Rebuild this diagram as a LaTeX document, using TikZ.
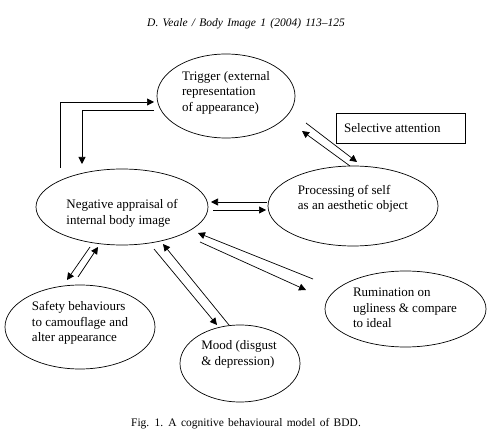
\documentclass[tikz,border=0pt]{standalone}
\usepackage{fontspec}
\setmainfont{Liberation Serif}
\usetikzlibrary{shapes.geometric,arrows.meta}
\newcommand\mywidesp{\spaceskip=4.3pt plus 1pt\relax}
\tikzset{
  oval/.style={draw, ellipse, line width=0.7pt, inner sep=0pt},
  txt/.style={align=left, inner sep=0pt, font=\fontsize{13}{15.5}\selectfont},
  captxt/.style={inner sep=0pt, font={\fontsize{11.5}{13}\selectfont\mywidesp}},
  conn/.style={line width=0.7pt, -{Triangle[length=7pt,width=7pt]}}
}
\begin{document}
\begin{tikzpicture}[x=1pt,y=-1pt]
\useasboundingbox (0,0) rectangle (500,446);
\node[captxt] (hdr) at (246,24) {\itshape D. Veale / Body Image 1 (2004) 113–125};
% ellipses
\node[oval, minimum width=138pt, minimum height=84pt] (trg) at (226,96) {};
\node[txt] (trgt) at (226,92.5) {Trigger (external\\representation\\of appearance)};
\node[draw, line width=0.7pt, minimum width=129pt, minimum height=30pt, inner sep=0pt] (sel) at (400.5,128) {};
\node[txt, anchor=west] (selt) at (344,128) {Selective attention};
\node[oval, minimum width=172pt, minimum height=76pt] (neg) at (122,207) {};
\node[txt] (negt) at (122,213.5) {Negative appraisal of\\internal body image};
\node[oval, minimum width=170pt, minimum height=80pt] (pro) at (353,206) {};
\node[txt] (prot) at (353,199) {Processing of self\\as an aesthetic object};
\node[oval, minimum width=150pt, minimum height=84pt] (saf) at (80,327) {};
\node[txt] (saft) at (80,323) {Safety behaviours\\to camouflage and\\alter appearance};
\node[oval, minimum width=120pt, minimum height=77pt] (moo) at (240,363.5) {};
\node[txt] (moot) at (239,354.5) {Mood (disgust\\\& depression)};
\node[oval, minimum width=161pt, minimum height=76pt] (rum) at (405.5,309) {};
\node[txt] (rumt) at (405,308) {Rumination on\\ugliness \& compare\\to ideal};
% coordinates
\coordinate (l1a) at (60,168);
\coordinate (l1b) at (60,102);
\coordinate (l1c) at (154,102);
\coordinate (l2a) at (154,110);
\coordinate (l2b) at (82,110);
\coordinate (l2c) at (82,164);
\coordinate (s1a) at (306,123);
\coordinate (s1b) at (357,162);
\coordinate (s2a) at (350,166);
\coordinate (s2b) at (302,131);
\coordinate (p1a) at (267,202);
\coordinate (p1b) at (211,202);
\coordinate (p2a) at (213,210);
\coordinate (p2b) at (266,210);
\coordinate (f1a) at (90,247);
\coordinate (f1b) at (67,280);
\coordinate (f2a) at (78,277);
\coordinate (f2b) at (98,247);
\coordinate (m1a) at (154,249);
\coordinate (m1b) at (217,325);
\coordinate (m2a) at (229,325);
\coordinate (m2b) at (163,244);
\coordinate (r1a) at (200,242);
\coordinate (r1b) at (306,290);
\coordinate (r2a) at (313,279);
\coordinate (r2b) at (198,233);
% connectors
\draw[conn] (l1a) -- (l1b) -- (l1c);
\draw[conn] (l2a) -- (l2b) -- (l2c);
\draw[conn] (s1a) -- (s1b);
\draw[conn] (s2a) -- (s2b);
\draw[conn] (p1a) -- (p1b);
\draw[conn] (p2a) -- (p2b);
\draw[conn] (f1a) -- (f1b);
\draw[conn] (f2a) -- (f2b);
\draw[conn] (m1a) -- (m1b);
\draw[conn] (m2a) -- (m2b);
\draw[conn] (r1a) -- (r1b);
\draw[conn] (r2a) -- (r2b);
\node[captxt] (cap) at (246,424) {Fig. 1. A cognitive behavioural model of BDD.};
\end{tikzpicture}
\end{document}
